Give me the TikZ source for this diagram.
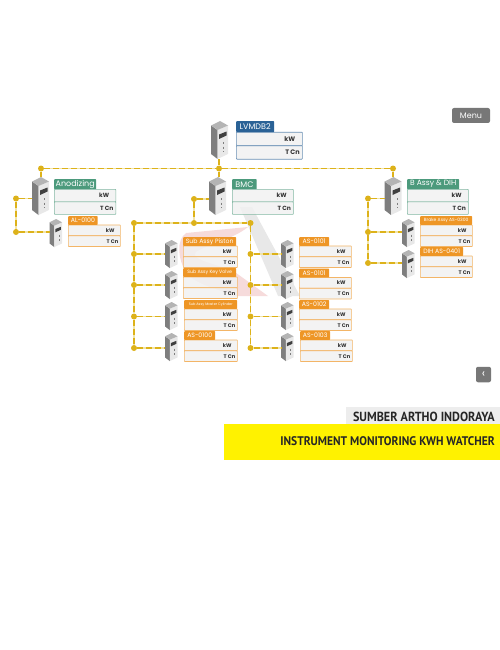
\documentclass[tikz,border=0pt]{standalone}
\usepackage{fontspec}
\setmainfont{Poppins}
\newfontfamily\headfont[FakeStretch=0.92]{PT Sans}
\definecolor{busdark}{HTML}{DDB21A}
\definecolor{buslight}{HTML}{F2E4A6}
\definecolor{panelgreen}{HTML}{4C9A7C}
\definecolor{panelblue}{HTML}{2B6296}
\definecolor{panelorange}{HTML}{EE9626}
\definecolor{rowgray}{HTML}{F1F1F1}
\definecolor{btngray}{HTML}{777777}
\definecolor{cabdark}{HTML}{7E7E7E}
\definecolor{cabtop}{HTML}{B4B4B4}
\definecolor{cabfront}{HTML}{E8E8E8}
\tikzset{
    busline/.style={draw=busdark, line width=1.5pt, dash pattern=on 6pt off 3pt,
        preaction={draw=buslight, line width=1.3pt, solid}},
    busdot/.style={circle, fill=busdark, inner sep=0pt, minimum size=6pt},
    tagbox/.style={anchor=north west, inner sep=0pt, text=white, rounded corners=0.6pt},
    rowbox/.style={anchor=north west, inner sep=0pt, fill=rowgray, fill opacity=0.85, line width=0.7pt, rounded corners=0.6pt},
    rowtext/.style={anchor=east, inner sep=0pt, text=black!80},
    cabbox/.style={anchor=north west, inner sep=0pt, minimum width=#1*17pt, minimum height=#1*38pt},
}
% isometric cabinet: name, x, y, scale
\newcommand{\cabinet}[4]{
    \node[cabbox=#4] (#1) at (#2,#3) {};
    \begin{scope}[shift={(#2,#3)}, x=#4pt, y=-#4pt]
        \fill[cabdark] (0,4.5) -- (6.5,9) -- (6.5,38) -- (0,33) -- cycle;
        \fill[cabfront] (6.5,9) -- (17,4.5) -- (17,33) -- (6.5,38) -- cycle;
        \fill[cabtop] (0,4.5) -- (9,0) -- (17,4.5) -- (6.5,9) -- cycle;
        \fill[black!75] (8,13.5) -- (15.5,10.5) -- (15.5,14.5) -- (8,18) -- cycle;
        \draw[cabdark, line width=0.5pt, dash pattern=on 2pt off 2.5pt] (12.5,21) -- (12.5,31);
    \end{scope}
}
% meter panel: name, colour, x, y, tag width, box width, row height, tag label
\newcommand{\meterpanel}[8]{
    \pgfmathsetmacro{\taghgt}{0.8*#7}
    \pgfmathsetmacro{\valsize}{0.48*#7}
    \pgfmathsetmacro{\kwinset}{0.55*#7}
    \pgfmathsetmacro{\tcinset}{0.2*#7}
    \node[rowbox, draw=#2!70, minimum width=#6pt, minimum height=#7pt] (#1kw) at (#3,#4+\taghgt) {};
    \node[rowbox, draw=#2!70, minimum width=#6pt, minimum height=#7pt] (#1tc) at (#3,#4+\taghgt+#7) {};
    \node[tagbox, fill=#2, minimum width=#5pt, minimum height=\taghgt pt] (#1tag) at (#3,#4) {#8};
    \node[rowtext, font=\fontsize{\valsize}{\valsize}\selectfont\bfseries] (#1kwt) at ([xshift=-\kwinset pt]#1kw.east) {kW};
    \node[rowtext, font=\fontsize{\valsize}{\valsize}\selectfont\bfseries] (#1tct) at ([xshift=-\tcinset pt]#1tc.east) {T Cn};
}
\newcommand{\tagfont}[2]{\fontsize{#1}{#1}\selectfont #2}
\begin{document}
\begin{tikzpicture}[x=1pt, y=-1pt]
    \useasboundingbox (0,0) rectangle (500,650);

    % logo behind everything, faint
    \fill[red!75!black, opacity=0.14] (186,233) -- (248,227) .. controls (232,240) and (205,245) .. (196,252)
        .. controls (190,258) and (205,262) .. (232,270) -- (268,296) -- (236,296)
        .. controls (222,290) and (195,285) .. (186,272) .. controls (178,260) and (176,240) .. (186,233) -- cycle;
    \fill[black, opacity=0.09] (240,207) -- (252,207) -- (300,296) -- (278,296) -- cycle;

    % junctions
    \node[busdot] (dtl) at (41,168.5) {};
    \node[busdot] (dtm) at (219,168.5) {};
    \node[busdot] (dtr) at (393,168.5) {};
    \node[busdot] (dan) at (16,198.5) {};
    \node[busdot] (dal) at (16,232) {};
    \node[busdot] (dbm) at (194,199) {};
    \node[busdot] (dbus) at (194,223) {};
    \node[busdot] (dbl) at (134,223) {};
    \node[busdot] (dbr) at (250.5,223) {};
    \node[busdot] (dba) at (368,198.5) {};
    \node[busdot] (dbb) at (368,232) {};
    \node[busdot] (dbc) at (368,263) {};

    % cabinets
    \cabinet{cablv}{211}{121}{1}
    \cabinet{caban}{32}{177}{1}
    \cabinet{cabal}{49.5}{219}{0.74}
    \cabinet{cabbm}{209}{177}{1}
    \cabinet{cabba}{384.5}{177}{1}
    \cabinet{cabbb}{402}{219}{0.74}
    \cabinet{cabbc}{402}{250}{0.74}

    % main bus
    \draw[busline] (dtl) -- (dtm);
    \draw[busline] (dtm) -- (dtr);
    \draw[busline] (dtl) -- (dtl |- caban.north);
    \draw[busline] (cablv.south -| dtm) -- (dtm);
    \draw[busline] (dtm) -- (dtm |- cabbm.north);
    \draw[busline] (dtr) -- (dtr |- cabba.north);
    % Anodizing
    \draw[busline] (dan) -- (dan -| caban.west);
    \draw[busline] (dan) -- (dal);
    \draw[busline] (dal) -- (dal -| cabal.west);
    % BMC
    \draw[busline] (dbm) -- (dbm -| cabbm.west);
    \draw[busline] (dbm) -- (dbus);
    \draw[busline] (dbl) -- (dbus);
    \draw[busline] (dbus) -- (dbr);
    % B Assy
    \draw[busline] (dba) -- (dba -| cabba.west);
    \draw[busline] (dba) -- (dbb);
    \draw[busline] (dbb) -- (dbc);
    \draw[busline] (dbb) -- (dbb -| cabbb.west);
    \draw[busline] (dbc) -- (dbc -| cabbc.west);

    % two columns of small cabinets
    \foreach \n/\dy/\cy in {1/254/240, 2/285/271, 3/316.5/302, 4/348/333}{
        \node[busdot] (dl\n) at (134,\dy) {};
        \node[busdot] (dr\n) at (250.5,\dy) {};
        \cabinet{cabl\n}{165}{\cy}{0.74}
        \cabinet{cabr\n}{281}{\cy}{0.74}
        \draw[busline] (dl\n) -- (dl\n -| cabl\n.west);
        \draw[busline] (dr\n) -- (dr\n -| cabr\n.west);
    }
    \draw[busline] (dbl) -- (dl1);
    \draw[busline] (dl1) -- (dl2);
    \draw[busline] (dl2) -- (dl3);
    \draw[busline] (dl3) -- (dl4);
    \draw[busline] (dbr) -- (dr1);
    \draw[busline] (dr1) -- (dr2);
    \draw[busline] (dr2) -- (dr3);
    \draw[busline] (dr3) -- (dr4);

    % panels
    \meterpanel{lv}{panelblue}{236}{121}{38}{66}{13.5}{\tagfont{8}{LVMDB2}}
    \meterpanel{an}{panelgreen}{54}{179}{42}{61.5}{12.5}{\tagfont{8}{Anodizing}}
    \meterpanel{bm}{panelgreen}{232}{179}{24.5}{61}{12.5}{\tagfont{8}{BMC}}
    \meterpanel{ba}{panelgreen}{407}{179}{52}{61}{12.5}{\tagfont{7.6}{B Assy \& DIH}}
    \meterpanel{al}{panelorange}{68}{216}{29.5}{52}{10.8}{\tagfont{6.2}{AL-0100}}
    \meterpanel{bb}{panelorange}{420}{216}{52}{52}{10.8}{\tagfont{4.5}{Brake Assy AS-0300}}
    \meterpanel{bc}{panelorange}{420}{247}{43}{52}{10.8}{\tagfont{6.2}{DIH AS-0401}}
    \meterpanel{sl1}{panelorange}{183}{237}{53}{54}{10.8}{\tagfont{6.2}{Sub Assy Piston}}
    \meterpanel{sl2}{panelorange}{183}{268}{53}{54}{10.8}{\tagfont{4.7}{Sub Assy Key Volve}}
    \meterpanel{sl3}{panelorange}{184}{300}{53}{53}{10.8}{\tagfont{3.5}{Sub Assy Master Cylinder}}
    \meterpanel{sl4}{panelorange}{184}{331}{31}{53}{10.8}{\tagfont{6.2}{AS-0100}}
    \meterpanel{sr1}{panelorange}{299}{237}{30}{52}{10.8}{\tagfont{6.2}{AS-0101}}
    \meterpanel{sr2}{panelorange}{299}{268.5}{30}{52}{10.8}{\tagfont{6.2}{AS-0101}}
    \meterpanel{sr3}{panelorange}{299}{300}{30}{52}{10.8}{\tagfont{6.2}{AS-0102}}
    \meterpanel{sr4}{panelorange}{300}{331}{30}{52}{10.8}{\tagfont{6.2}{AS-0103}}

    % buttons
    \node[fill=btngray, rounded corners=2pt, minimum width=38pt, minimum height=15pt, inner sep=0pt,
        text=white, font=\fontsize{8}{8}\selectfont] (menu) at (471,115.5) {Menu};
    \node[fill=btngray, rounded corners=2pt, minimum width=15pt, minimum height=15.5pt, inner sep=0pt,
        text=white, font=\fontsize{12}{12}\selectfont] (back) at (483.5,374.5) {‹};

    % title bands
    \fill[black!7] (346,407) rectangle (500,424);
    \fill[yellow] (224,424) rectangle (500,460);
    \node[anchor=east, inner sep=0pt, text=black!85, font=\headfont\bfseries\fontsize{13.2}{13.2}\selectfont] (company) at (495,417) {SUMBER ARTHO INDORAYA};
    \node[anchor=east, inner sep=0pt, text=black!85, font=\headfont\bfseries\fontsize{12.5}{12.5}\selectfont] (title) at (495,441.5) {INSTRUMENT MONITORING KWH WATCHER};
\end{tikzpicture}
\end{document}
